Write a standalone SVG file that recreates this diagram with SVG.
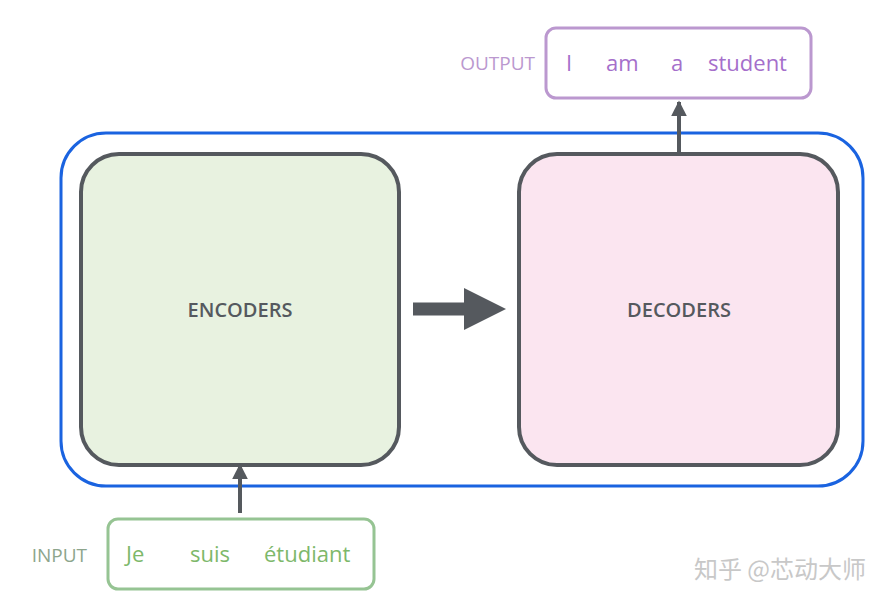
<svg xmlns="http://www.w3.org/2000/svg" width="889" height="607" viewBox="0 0 889 607">
<style>
.box{stroke:#55595e;stroke-width:4}
.lbl{font-family:"Open Sans",sans-serif;font-size:20px;font-weight:600;fill:#55595e;text-anchor:middle}
.w{font-family:"Open Sans",sans-serif;font-size:22px}
.tag{font-family:"Open Sans",sans-serif;font-size:19px}
</style>
<defs>
<marker id="ah" viewBox="0 0 10 10" refX="9" refY="5" markerWidth="4" markerHeight="4" orient="auto" markerUnits="strokeWidth"><path d="M0,0L10,5L0,10z" fill="#55595e"/></marker>
</defs>
<rect width="889" height="607" fill="#fff"/>
<g id="container"><rect x="61" y="133" width="802" height="353" rx="45" fill="none" stroke="#1a63e0" stroke-width="3"/></g>
<g id="encoders"><rect class="box" x="81" y="154" width="318" height="311" rx="38" fill="#e8f2e0"/><text class="lbl" x="240" y="317">ENCODERS</text></g>
<g id="decoders"><rect class="box" x="519" y="154" width="319" height="311" rx="38" fill="#fbe5f0"/><text class="lbl" x="679" y="317">DECODERS</text></g>
<g id="output"><rect x="546" y="28" width="265" height="70" rx="10" fill="#fff" stroke="#bb98cf" stroke-width="3"/>
<text class="tag" x="535" y="70" fill="#bb98cf" text-anchor="end">OUTPUT</text>
<g class="w" fill="#a56fcb"><text x="566" y="71">I</text><text x="606" y="71">am</text><text x="671" y="71">a</text><text x="708" y="71">student</text></g></g>
<g id="input"><rect x="108" y="519" width="266" height="70" rx="10" fill="#fff" stroke="#96c493" stroke-width="3"/>
<text class="tag" x="87" y="562" fill="#8da58c" text-anchor="end">INPUT</text>
<g class="w" fill="#7db86a"><text x="126" y="562">Je</text><text x="190" y="562">suis</text><text x="264" y="562">étudiant</text></g></g>
<g id="connectors" stroke="#55595e" fill="none">
<line x1="240" y1="513" x2="240" y2="465" stroke-width="4" marker-end="url(#ah)"/>
<line x1="679" y1="154" x2="679" y2="102" stroke-width="4" marker-end="url(#ah)"/>
<line x1="413" y1="309" x2="468" y2="309" stroke-width="13"/>
<path d="M464,288L506,309L464,330z" fill="#55595e" stroke="none"/>
</g>
<text x="866" y="578" font-family="Noto Sans CJK SC,sans-serif" font-size="24" fill="#c8c8c8" text-anchor="end">知乎 @芯动大师</text>
</svg>
